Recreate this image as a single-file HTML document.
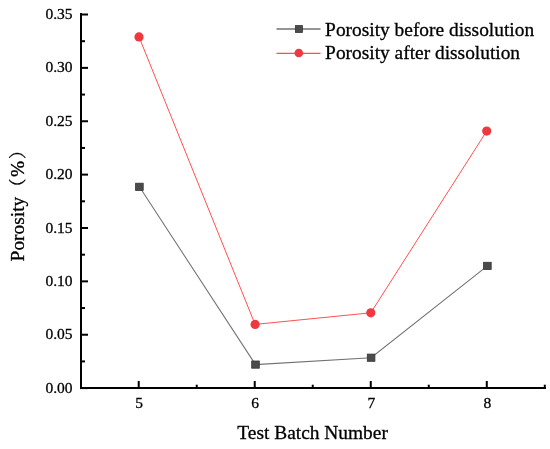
<!DOCTYPE html>
<html><head><meta charset="utf-8"><style>
html,body{margin:0;padding:0;background:#fff;}
body{width:550px;height:449px;overflow:hidden;}
svg{display:block;}
.t{font-family:"Liberation Serif",serif;font-size:15.5px;fill:#000;stroke:#000;stroke-width:0.3px;}
.ti{font-family:"Liberation Serif","Noto Serif CJK SC",serif;font-size:19.4px;fill:#000;stroke:#000;stroke-width:0.3px;}
.cjk{font-family:"Noto Serif CJK SC",serif;font-size:17.5px;}
.lg{font-family:"Liberation Serif",serif;font-size:19.4px;fill:#000;stroke:#000;stroke-width:0.3px;}
</style></head><body>
<svg width="550" height="449" viewBox="0 0 550 449">
<rect width="550" height="449" fill="#fff"/>
<rect x="80" y="13" width="2" height="376" fill="#000"/>
<rect x="80" y="387" width="466" height="2" fill="#000"/>
<rect x="80" y="387.10" width="8" height="2" fill="#000"/>
<rect x="80" y="360.42" width="5" height="2" fill="#000"/>
<rect x="80" y="333.73" width="8" height="2" fill="#000"/>
<rect x="80" y="307.05" width="5" height="2" fill="#000"/>
<rect x="80" y="280.36" width="8" height="2" fill="#000"/>
<rect x="80" y="253.68" width="5" height="2" fill="#000"/>
<rect x="80" y="226.99" width="8" height="2" fill="#000"/>
<rect x="80" y="200.30" width="5" height="2" fill="#000"/>
<rect x="80" y="173.62" width="8" height="2" fill="#000"/>
<rect x="80" y="146.94" width="5" height="2" fill="#000"/>
<rect x="80" y="120.25" width="8" height="2" fill="#000"/>
<rect x="80" y="93.56" width="5" height="2" fill="#000"/>
<rect x="80" y="66.88" width="8" height="2" fill="#000"/>
<rect x="80" y="40.19" width="5" height="2" fill="#000"/>
<rect x="80" y="13.51" width="8" height="2" fill="#000"/>
<rect x="137.72" y="381" width="2" height="8" fill="#000"/>
<rect x="253.74" y="381" width="2" height="8" fill="#000"/>
<rect x="369.76" y="381" width="2" height="8" fill="#000"/>
<rect x="485.78" y="381" width="2" height="8" fill="#000"/>
<rect x="195.73" y="384.7" width="2" height="4.3" fill="#000"/>
<rect x="311.75" y="384.7" width="2" height="4.3" fill="#000"/>
<rect x="427.77" y="384.7" width="2" height="4.3" fill="#000"/>
<rect x="543.79" y="384.7" width="2" height="4.3" fill="#000"/>
<text x="72.5" y="392.70" text-anchor="end" class="t">0.00</text>
<text x="72.5" y="339.33" text-anchor="end" class="t">0.05</text>
<text x="72.5" y="285.96" text-anchor="end" class="t">0.10</text>
<text x="72.5" y="232.59" text-anchor="end" class="t">0.15</text>
<text x="72.5" y="179.22" text-anchor="end" class="t">0.20</text>
<text x="72.5" y="125.85" text-anchor="end" class="t">0.25</text>
<text x="72.5" y="72.48" text-anchor="end" class="t">0.30</text>
<text x="72.5" y="19.11" text-anchor="end" class="t">0.35</text>
<text x="139.22" y="408" text-anchor="middle" class="t">5</text>
<text x="255.24" y="408" text-anchor="middle" class="t">6</text>
<text x="371.26" y="408" text-anchor="middle" class="t">7</text>
<text x="487.28" y="408" text-anchor="middle" class="t">8</text>
<text x="312.6" y="438.8" text-anchor="middle" class="ti">Test Batch Number</text>
<text transform="translate(23.6,261.4) rotate(-90)" class="ti">Porosity<tspan class="cjk" x="65.3" dy="0.6">（</tspan><tspan x="84.4" dy="-0.6">%</tspan><tspan class="cjk" x="102.5" dy="0.6">）</tspan></text>
<polyline points="139.4,186.8 255.5,364.6 371.1,357.7 487.4,265.9" fill="none" stroke="#727272" stroke-width="1.05"/>
<polyline points="139.0,36.9 255.1,324.4 370.8,312.8 486.7,131.1" fill="none" stroke="#ff5050" stroke-width="1.0"/>
<rect x="135.6" y="183.2" width="7.6" height="7.2" fill="#4b4b4b" stroke="#333" stroke-width="0.8"/>
<rect x="251.7" y="361.0" width="7.6" height="7.2" fill="#4b4b4b" stroke="#333" stroke-width="0.8"/>
<rect x="367.3" y="354.1" width="7.6" height="7.2" fill="#4b4b4b" stroke="#333" stroke-width="0.8"/>
<rect x="483.6" y="262.3" width="7.6" height="7.2" fill="#4b4b4b" stroke="#333" stroke-width="0.8"/>
<circle cx="139.0" cy="36.9" r="4.6" fill="#ee3a3e"/>
<circle cx="255.1" cy="324.4" r="4.6" fill="#ee3a3e"/>
<circle cx="370.8" cy="312.8" r="4.6" fill="#ee3a3e"/>
<circle cx="486.7" cy="131.1" r="4.6" fill="#ee3a3e"/>
<line x1="276.5" y1="29" x2="320.5" y2="29" stroke="#727272" stroke-width="1.3"/>
<rect x="295.4" y="25.6" width="7.0" height="6.8" fill="#4b4b4b" stroke="#333" stroke-width="0.8"/>
<line x1="276.5" y1="53.4" x2="320.5" y2="53.4" stroke="#ff4d4d" stroke-width="1.3"/>
<circle cx="298.8" cy="53" r="4.3" fill="#ee3a3e"/>
<text x="325.1" y="35.6" class="lg">Porosity before dissolution</text>
<text x="325.1" y="59.2" class="lg">Porosity after dissolution</text>
</svg>
</body></html>
